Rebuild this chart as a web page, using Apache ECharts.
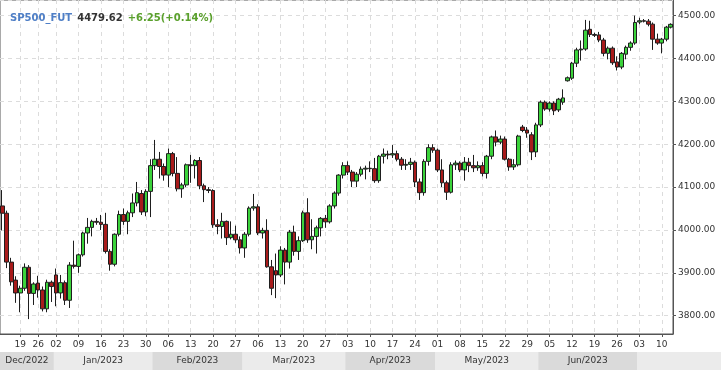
<!DOCTYPE html>
<html><head><meta charset="utf-8">
<script src="https://cdn.jsdelivr.net/npm/echarts@6/dist/echarts.min.js"></script>
<style>html,body{margin:0;padding:0;background:#fff}#c{width:721px;height:370px}</style>
</head><body><div id="c"></div>
<script>
const symbolName = 'SP500_FUT';
const lastPrice = 4479.62;
const change = 6.25;
const changePct = 0.14;

const dates = [
'2022-12-13','2022-12-14','2022-12-15','2022-12-16','2022-12-19','2022-12-20','2022-12-21','2022-12-22','2022-12-26','2022-12-27','2022-12-28','2022-12-29',
'2023-01-02','2023-01-03','2023-01-04','2023-01-05','2023-01-06','2023-01-09','2023-01-10','2023-01-11','2023-01-12','2023-01-13','2023-01-16','2023-01-17','2023-01-18','2023-01-19','2023-01-20','2023-01-23','2023-01-24','2023-01-25','2023-01-26','2023-01-27','2023-01-30','2023-01-31',
'2023-02-01','2023-02-02','2023-02-03','2023-02-06','2023-02-07','2023-02-08','2023-02-09','2023-02-10','2023-02-13','2023-02-14','2023-02-15','2023-02-16','2023-02-17','2023-02-20','2023-02-21','2023-02-22','2023-02-23','2023-02-24','2023-02-27','2023-02-28',
'2023-03-01','2023-03-02','2023-03-03','2023-03-06','2023-03-07','2023-03-08','2023-03-09','2023-03-10','2023-03-13','2023-03-14','2023-03-15','2023-03-16','2023-03-17','2023-03-20','2023-03-21','2023-03-22','2023-03-23','2023-03-24','2023-03-27','2023-03-28','2023-03-29','2023-03-30','2023-03-31',
'2023-04-03','2023-04-04','2023-04-05','2023-04-06','2023-04-07','2023-04-10','2023-04-11','2023-04-12','2023-04-13','2023-04-14','2023-04-17','2023-04-18','2023-04-19','2023-04-20','2023-04-21','2023-04-24','2023-04-25','2023-04-26','2023-04-27','2023-04-28',
'2023-05-01','2023-05-02','2023-05-03','2023-05-04','2023-05-05','2023-05-08','2023-05-09','2023-05-10','2023-05-11','2023-05-12','2023-05-15','2023-05-16','2023-05-17','2023-05-18','2023-05-19','2023-05-22','2023-05-23','2023-05-24','2023-05-25','2023-05-26','2023-05-29','2023-05-30','2023-05-31',
'2023-06-01','2023-06-02','2023-06-05','2023-06-06','2023-06-07','2023-06-08','2023-06-09','2023-06-12','2023-06-13','2023-06-14','2023-06-15','2023-06-16','2023-06-19','2023-06-20','2023-06-21','2023-06-22','2023-06-23','2023-06-26','2023-06-27','2023-06-28','2023-06-29','2023-06-30',
'2023-07-03','2023-07-04','2023-07-05','2023-07-06','2023-07-07','2023-07-10','2023-07-11','2023-07-12'
];

const open = [4056,4039,3925,3883,3853,3864,3913,3852,3876,3860,3816,3878,
3895,3853,3877,3836,3918,3915,3942,3993,4006,4020,4018,4013,3950,3920,3990,4036,4020,4040,4063,4085,4042,
4090,4150,4165,4148,4128,4178,4132,4096,4105,4152,4150,4162,4103,4094,4092,4012,4008,4020,3982,3990,
3977,3958,3990,4051,4054,3993,3999,3914,3905,3895,3953,3925,3995,3950,3975,4040,3977,3985,4005,4027,4019,4056,4086,
4128,4150,4135,4114,4130,4142,4144,4143,4115,4172,4177,4175,4178,4165,4151,4153,4158,4112,4087,4160,
4192,4186,4140,4110,4088,4152,4156,4140,4158,4150,4145,4150,4132,4172,4217,4205,4212,4165,4147,4152,4240,4233,4222,
4182,4245,4298,4282,4296,4280,4298,4348,4354,4389,4420,4422,4468,4456,4455,4443,4412,4424,4392,4380,4410,4426,4436,
4485,4488,4487,4480,4445,4436,4445,4473];

const high = [4093,4045,3935,3892,3870,3922,3918,3878,3893,3868,3884,3882,
3910,3895,3882,3925,3975,3945,3996,4028,4024,4028,4035,4040,3955,3992,4045,4050,4045,4085,4112,4093,4095,
4165,4210,4182,4155,4190,4182,4170,4110,4155,4175,4165,4170,4108,4100,4095,4025,4040,4022,4020,4010,
3985,3995,4055,4084,4060,4005,4025,3930,3945,3962,3958,4000,4010,3985,4045,4074,4025,4010,4030,4035,4060,4090,4130,
4158,4160,4140,4135,4148,4150,4160,4168,4175,4190,4185,4198,4185,4170,4165,4168,4162,4120,4165,4200,
4200,4190,4165,4115,4158,4162,4160,4170,4168,4175,4160,4158,4175,4220,4232,4220,4218,4168,4165,4222,4245,4240,4228,
4250,4302,4302,4300,4300,4308,4328,4358,4392,4425,4442,4490,4488,4460,4462,4448,4428,4428,4405,4415,4430,4440,4500,
4495,4492,4492,4484,4458,4448,4476,4482];

const low = [3999,3911,3870,3830,3808,3858,3792,3825,3842,3810,3808,3832,
3822,3840,3825,3818,3910,3900,3938,3968,3985,4012,4000,3945,3905,3915,3985,4012,3990,4030,4055,4035,4032,
4030,4140,4120,4115,4100,4125,4090,4075,4100,4110,4120,4095,4065,4086,4005,3990,3980,3965,3978,3970,
3945,3935,3985,4045,3988,3980,3912,3848,3841,3890,3873,3910,3940,3930,3972,3970,3955,3945,3985,4005,4015,4050,4080,
4120,4128,4100,4100,4125,4118,4135,4110,4110,4155,4165,4168,4160,4140,4140,4140,4100,4070,4080,4150,
4180,4135,4100,4070,4085,4140,4135,4115,4135,4135,4138,4125,4120,4165,4195,4200,4162,4138,4140,4148,4228,4215,4163,
4170,4240,4278,4276,4268,4275,4292,4346,4350,4380,4395,4418,4450,4450,4438,4405,4398,4385,4372,4375,4398,4418,4432,
4480,4484,4475,4420,4432,4412,4440,4470];

const close = [4039,3925,3879,3853,3864,3913,3852,3874,3860,3816,3878,3868,
3853,3877,3836,3918,3915,3942,3993,4006,4020,4018,4013,3950,3920,3990,4036,4020,4040,4063,4087,4042,4090,
4150,4165,4148,4128,4178,4132,4096,4105,4152,4150,4162,4103,4094,4092,4012,4008,4020,3982,3990,3977,
3958,3990,4051,4054,3993,3999,3914,3864,3895,3953,3925,3995,3950,3975,4040,3977,3985,4005,4027,4019,4056,4086,4128,
4150,4135,4114,4130,4142,4144,4143,4115,4172,4177,4175,4178,4165,4151,4153,4158,4112,4087,4160,4192,
4186,4140,4110,4088,4152,4156,4140,4158,4150,4145,4150,4132,4172,4217,4205,4212,4165,4147,4152,4219,4232,4226,4182,
4245,4298,4282,4296,4278,4305,4308,4355,4389,4420,4422,4466,4456,4454,4443,4412,4424,4390,4380,4412,4426,4436,4484,
4488,4487,4480,4445,4436,4445,4473,4479.62];

const monthNames = ['Jan','Feb','Mar','Apr','May','Jun','Jul','Aug','Sep','Oct','Nov','Dec'];
const FONT = 'DejaVu Sans';

const ohlc = dates.map((d, i) => [open[i], close[i], low[i], high[i]]);
const isWeekStart = (i, v) => new Date(v + 'T00:00:00Z').getUTCDay() === 1;

const months = [];
dates.forEach((d, i) => {
  const key = d.slice(0, 7);
  const last = months[months.length - 1];
  if (!last || last.key !== key) months.push({ key: key, start: i, end: i });
  else last.end = i;
});
const bandData = months.map((m, k) => [m.start, m.end, monthNames[+m.key.slice(5, 7) - 1] + '/' + m.key.slice(0, 4), k % 2]);

const chart = echarts.init(document.getElementById('c'), null, { renderer: 'canvas' });
chart.setOption({
  animation: false,
  backgroundColor: '#ffffff',
  graphic: [{ type: 'rect', z: -1, shape: { x: 0, y: 352, width: 721, height: 18 }, style: { fill: '#ebebeb' } }],
  title: {
    left: 5, top: 4,
    text: '{s|' + symbolName + '} {p|' + lastPrice.toFixed(2) + '} {c|+' + change.toFixed(2) + '(+' + changePct.toFixed(2) + '%)}',
    textStyle: {
      rich: {
        s: { color: '#4f7fc6', fontWeight: 'bold', fontSize: 10, fontFamily: FONT },
        p: { color: '#333333', fontWeight: 'bold', fontSize: 10, fontFamily: FONT },
        c: { color: '#5aa02c', fontWeight: 'bold', fontSize: 10, fontFamily: FONT }
      }
    }
  },
  grid: [
    { left: 0, right: 48, top: 0, bottom: 36, show: true, borderColor: '#555', borderWidth: 1, backgroundColor: 'transparent' },
    { left: 0, right: 48, top: 352, height: 18 }
  ],
  xAxis: [
    {
      type: 'category', data: dates, boundaryGap: true, gridIndex: 0,
      axisLine: { lineStyle: { color: '#555' } },
      axisTick: { show: true, alignWithLabel: true, interval: isWeekStart, length: 3, lineStyle: { color: '#555' } },
      axisLabel: { interval: isWeekStart, formatter: v => v.slice(8), color: '#333', fontSize: 9, fontFamily: FONT, margin: 6 },
      splitLine: { show: true, alignWithLabel: true, interval: isWeekStart, lineStyle: { color: '#dcdcdc', type: [4, 4] } }
    },
    { type: 'category', data: dates, gridIndex: 1, show: false }
  ],
  yAxis: [
    {
      type: 'value', position: 'right', gridIndex: 0, min: 3757.3, max: 4536.4, minInterval: 100, maxInterval: 100, scale: true,
      axisLine: { show: true, lineStyle: { color: '#555' } },
      axisTick: { show: true, length: 3, lineStyle: { color: '#555' } },
      axisLabel: { formatter: v => v.toFixed(2), color: '#333', fontSize: 9, fontFamily: FONT, margin: 5, showMinLabel: false, showMaxLabel: false },
      splitLine: { show: true, lineStyle: { color: '#dcdcdc', type: [4, 4] } }
    },
    { type: 'value', gridIndex: 1, min: 0, max: 1, show: false }
  ],
  series: [
    {
      type: 'candlestick', xAxisIndex: 0, yAxisIndex: 0, data: ohlc, barWidth: '92%',
      itemStyle: { color: '#3bd33b', color0: '#a81b1b', borderColor: '#1e1e1e', borderColor0: '#1e1e1e', borderWidth: 1 },
      markLine: {
        silent: true, symbol: ['none', 'none'],
        data: [{ yAxis: lastPrice }],
        lineStyle: { opacity: 0 },
        label: {
          show: true, position: 'end', distance: 3,
          formatter: () => lastPrice.toFixed(2),
          color: '#fff', backgroundColor: '#1c1c1c', borderRadius: 2, padding: [3, 3, 2, 3],
          fontSize: 10, fontWeight: 'bold', fontFamily: FONT
        }
      }
    },
    {
      type: 'custom', xAxisIndex: 1, yAxisIndex: 1, data: bandData, encode: { x: [0, 1] },
      renderItem: (params, api) => {
        const s = api.coord([api.value(0), 0]);
        const e = api.coord([api.value(1), 0]);
        const w = api.size([1, 0])[0];
        const cs = params.coordSys;
        const x0 = s[0] - w / 2, x1 = e[0] + w / 2;
        const item = bandData[params.dataIndex];
        const children = [
          { type: 'rect', shape: { x: x0, y: cs.y, width: x1 - x0, height: cs.height }, style: { fill: item[3] === 0 ? '#dadada' : '#ebebeb' } }
        ];
        if (x1 - x0 > 45) {
          children.push({ type: 'text', style: { text: item[2], x: (x0 + x1) / 2, y: cs.y + cs.height / 2, align: 'center', verticalAlign: 'middle', fill: '#333', font: '9px "DejaVu Sans"' } });
        }
        return { type: 'group', children: children };
      }
    }
  ]
});
</script>
</body></html>
